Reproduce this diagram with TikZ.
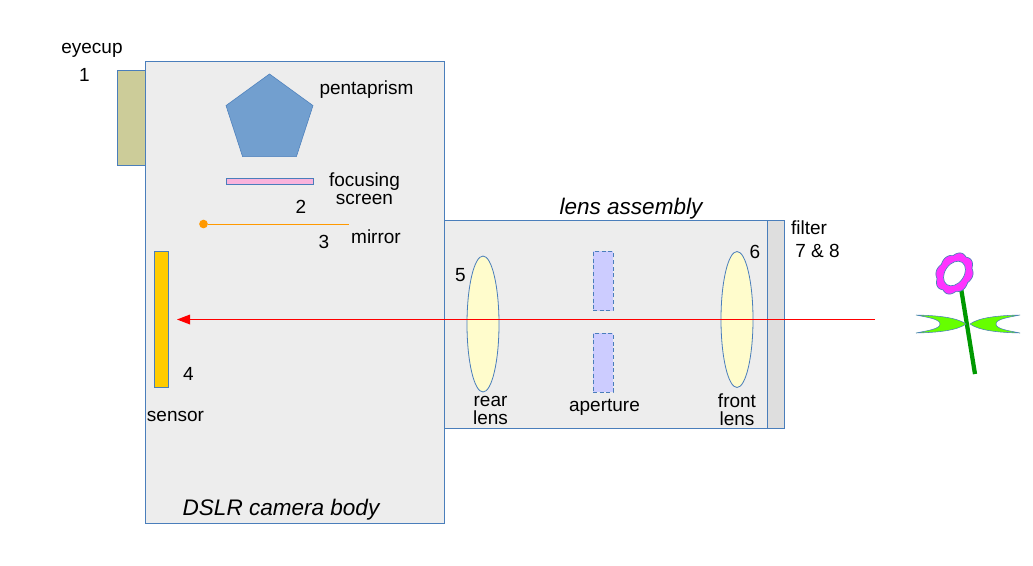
\documentclass[tikz,border=0pt]{standalone}
\usepackage{fontspec}
\setmainfont{Liberation Sans}
\usetikzlibrary{shapes,arrows,positioning}
\definecolor{edge}{HTML}{4A7EBB}
\definecolor{prismblue}{HTML}{729FCF}
\definecolor{cupgreen}{HTML}{CCCC99}
\definecolor{sensorgold}{HTML}{FFCC00}
\definecolor{mirrororange}{HTML}{FF9900}
\definecolor{leafgreen}{HTML}{66FF00}
\definecolor{petal}{HTML}{FF33FF}
\definecolor{stemgreen}{HTML}{009900}
\tikzstyle{part} = [rectangle, draw=edge, inner sep=0pt, line width=0.6pt]
\tikzstyle{lens} = [ellipse, draw=edge, fill=yellow!20, inner sep=0pt, minimum width=24pt, minimum height=102pt, line width=0.6pt]
\tikzstyle{stop} = [part, densely dashed, fill=blue!20, minimum width=15pt, minimum height=44.5pt, line width=0.4pt]
\tikzstyle{caption} = [inner sep=0pt, align=center, font=\fontsize{14.25}{13.5}\selectfont]
\tikzstyle{heading} = [inner sep=0pt, font=\fontsize{16.9}{20}\selectfont\itshape]
\tikzstyle{ray} = [draw=red, line width=0.4pt]
\tikzstyle{leaf} = [draw=edge, fill=leafgreen, line width=0.4pt]
\begin{document}
\begin{tikzpicture}[x=0.75pt, y=-0.75pt]
\useasboundingbox (0,0) rectangle (1033,565);
% camera body and lens barrel
\node [part, fill=black!7, minimum width=224.25pt, minimum height=346.5pt] (body) at (294.5,292) {};
\node [part, fill=black!7, minimum width=242.25pt, minimum height=156pt] (barrel) at (605.5,324) {};
\node [part, fill=black!13, minimum width=12.75pt, minimum height=156pt] (filter) at (775.5,324) {};
\node [part, fill=cupgreen, minimum width=21pt, minimum height=71.25pt] (eyecup) at (131,117.5) {};
% inside the body
\node [regular polygon, regular polygon sides=5, draw=edge, fill=prismblue, inner sep=0pt, minimum size=68.6pt] (prism) at (269.5,119.7) {};
\node [part, fill=magenta!30, minimum width=65.25pt, minimum height=4.5pt] (screen) at (269.5,181) {};
\node [circle, fill=mirrororange, inner sep=0pt, minimum size=6.5pt] (hinge) at (203.5,224) {};
\coordinate (mirrorend) at (349,224);
\draw [mirrororange, line width=0.5pt] (hinge) -- (mirrorend);
\node [part, fill=sensorgold, minimum width=10.5pt, minimum height=102pt] (sensor) at (161,319) {};
% inside the barrel
\node [lens] (rear) at (483,324) {};
\node [lens] (front) at (737,319.5) {};
\node [stop] (stoptop) at (603,281) {};
\node [stop] (stopbottom) at (603,362.5) {};
% light ray
\coordinate (source) at (875,319.5);
\coordinate (hit) at (177,319.5);
\path [ray] (source) -- (190,319.5);
\fill [red] (hit) -- (190,314.5) -- (190,324.5) -- cycle;
% flower
\draw [stemgreen, line width=3.2pt] (961,288) -- (975,374);
\draw [leaf] (916,315) .. controls (938,315.5) and (957,317.5) .. (966,324) .. controls (957,330.5) and (938,332.5) .. (916,333) .. controls (928,330.5) and (940,329) .. (940,324) .. controls (940,319) and (928,317.5) .. (916,315) -- cycle;
\draw [leaf] (1020,315) .. controls (998,315.5) and (979,317.5) .. (970,324) .. controls (979,330.5) and (998,332.5) .. (1020,333) .. controls (1008,330.5) and (996,329) .. (996,324) .. controls (996,319) and (1008,317.5) .. (1020,315) -- cycle;
\begin{scope}[shift={(954.5,273.5)}, rotate=55]
\draw [edge, fill=petal, line width=0.5pt, smooth, samples=145, domain=0:360] plot ({20*cos(\x)*(1+0.1*abs(sin(4*\x)))},{16*sin(\x)*(1+0.1*abs(sin(4*\x)))}) -- cycle;
\draw [edge, fill=white, line width=0.5pt] (0,0) ellipse (13.5 and 9.5);
\end{scope}
% labels
\node [caption] (eyecuptext) at (92,50.5) {eyecup};
\node [caption] (one) at (84.5,75) {1};
\node [caption] (prismtext) at (366.5,90) {pentaprism};
\node [caption] (screentext) at (364.5,188.5) {focusing\\screen};
\node [caption] (two) at (301,207) {2};
\node [caption] (three) at (324,242) {3};
\node [caption] (mirrortext) at (376,237) {mirror};
\node [caption] (four) at (188.5,374) {4};
\node [caption] (sensortext) at (175.5,416) {sensor};
\node [caption] (five) at (460.5,275) {5};
\node [caption] (six) at (755,252) {6};
\node [caption] (reartext) at (490.5,410) {rear\\lens};
\node [caption] (stoptext) at (604.5,407) {aperture};
\node [caption] (fronttext) at (737,410) {front\\lens};
\node [caption] (filtertext) at (809,228) {filter};
\node [caption] (seven) at (817.5,251) {7 \& 8};
\node [heading] (barreltext) at (631,209) {lens assembly};
\node [heading] (bodytext) at (281,509.5) {DSLR camera body};
\end{tikzpicture}
\end{document}
